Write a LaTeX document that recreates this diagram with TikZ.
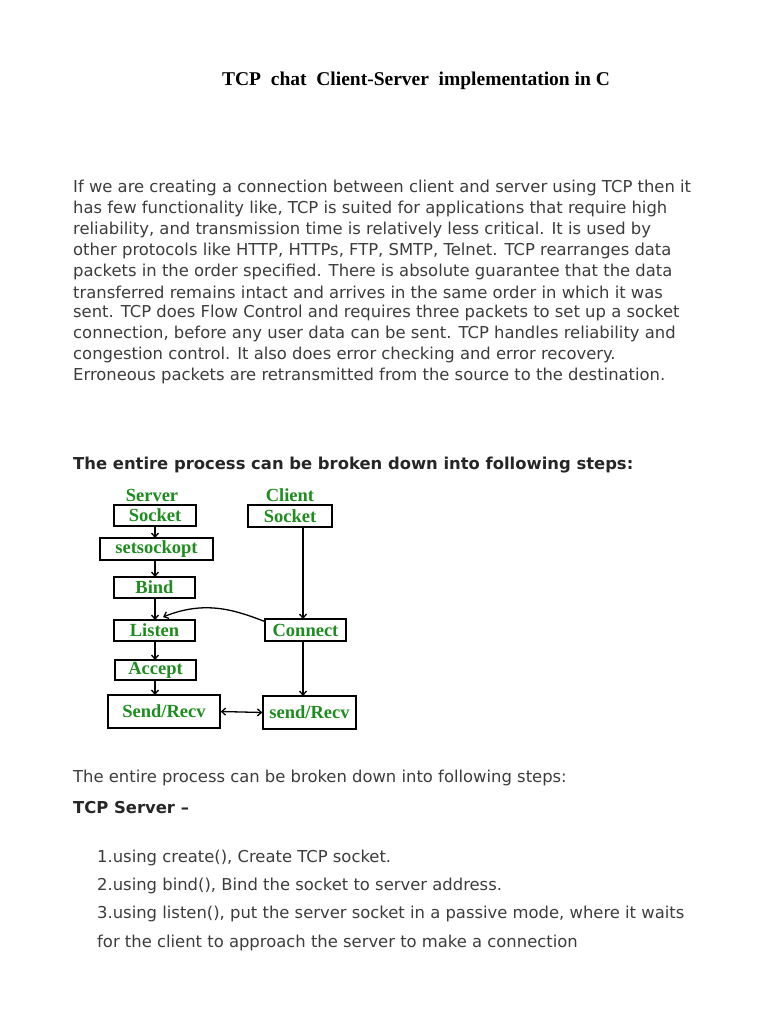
\documentclass[tikz,border=0pt]{standalone}
\usepackage{fontspec}
\setmainfont{DejaVu Sans}
\newfontfamily\titlefont{Liberation Serif}
\usetikzlibrary{arrows.meta}
\definecolor{dgreen}{RGB}{30,140,30}
\definecolor{txt}{RGB}{60,60,60}
\begin{document}
\begin{tikzpicture}[x=1pt,y=-1pt,
  body/.style={anchor=west,inner sep=0,text=txt,font=\fontsize{16.4}{18}\selectfont},
  bx/.style={draw,line width=1.3pt,text=dgreen,font=\titlefont\bfseries\fontsize{18.5}{19}\selectfont,inner sep=0},
  lab/.style={text=dgreen,font=\titlefont\bfseries\fontsize{18.5}{19}\selectfont,inner sep=0},
  ar/.style={-{Straight Barb[length=4pt,width=7pt]},line width=1.3pt}]
\useasboundingbox (0,0) rectangle (768,1024);
\node[inner sep=0,font=\titlefont\bfseries\fontsize{19.5}{21}\selectfont] (title) at (416,81) {TCP\ \ chat\ \ Client-Server\ \ implementation\ in C};
\foreach \t [count=\i] in {
If we are creating a connection between client and server using TCP then it,
{has few functionality like, TCP is suited for applications that require high},
{reliability, and transmission time is relatively less critical. It is used by},
{other protocols like HTTP, HTTPs, FTP, SMTP, Telnet. TCP rearranges data},
packets in the order specified. There is absolute guarantee that the data,
transferred remains intact and arrives in the same order in which it was,
sent. TCP does Flow Control and requires three packets to set up a socket,
{connection, before any user data can be sent. TCP handles reliability and},
congestion control. It also does error checking and error recovery.,
Erroneous packets are retransmitted from the source to the destination.}
  \node[body] (p\i) at (73,{188+20.9*(\i-1)}) {\t};
\node[body,font=\bfseries\fontsize{16.4}{18}\selectfont,text=black!85] (h1) at (73,465) {The entire process can be broken down into following steps:};
% diagram
\node[lab] (srv) at (152,495) {Server};
\node[lab] (cli) at (290,495) {Client};
\node[bx,minimum width=82,minimum height=21] (ss) at (155,515.5) {Socket};
\node[bx,minimum width=113,minimum height=22] (so) at (156.5,549) {setsockopt};
\node[bx,minimum width=81,minimum height=21] (bi) at (154.5,587.5) {Bind};
\node[bx,minimum width=81,minimum height=21] (li) at (154.5,630.5) {Listen};
\node[bx,minimum width=81,minimum height=20] (ac) at (155.5,670) {Accept};
\node[bx,minimum width=112,minimum height=33] (sr) at (164,711.5) {Send/Recv};
\node[bx,minimum width=84,minimum height=22] (cs) at (290,516) {Socket};
\node[bx,minimum width=81,minimum height=22] (co) at (305.5,630) {Connect};
\node[bx,minimum width=93,minimum height=33] (cr) at (309.5,712.5) {send/Recv};
\draw[ar] (155,526) -- (155,538);
\draw[ar] (155,560) -- (155,577);
\draw[ar] (155,598) -- (155,620);
\draw[ar] (155,641) -- (155,660);
\draw[ar] (155,680) -- (155,695);
\draw[ar] (303,527) -- (303,619);
\draw[ar] (303,641) -- (303,696);
\draw[ar] (co.north west) ++(0,3) .. controls (235,610) and (205,600) .. (163,617);
\draw[{Straight Barb[length=4pt,width=7pt]}-{Straight Barb[length=4pt,width=7pt]},line width=1.3pt] (sr.east) -- (cr.west);
% lower text
\node[body] (t2) at (73,778) {The entire process can be broken down into following steps:};
\node[body,font=\bfseries\fontsize{16.4}{18}\selectfont,text=black!85] (t3) at (73,808) {TCP Server –};
\node[body] (l1) at (97,858) {1.using create(), Create TCP socket.};
\node[body] (l2) at (97,886) {2.using bind(), Bind the socket to server address.};
\node[body] (l3) at (97,914) {3.using listen(), put the server socket in a passive mode, where it waits};
\node[body] (l4) at (97,943) {for the client to approach the server to make a connection};
\end{tikzpicture}
\end{document}
